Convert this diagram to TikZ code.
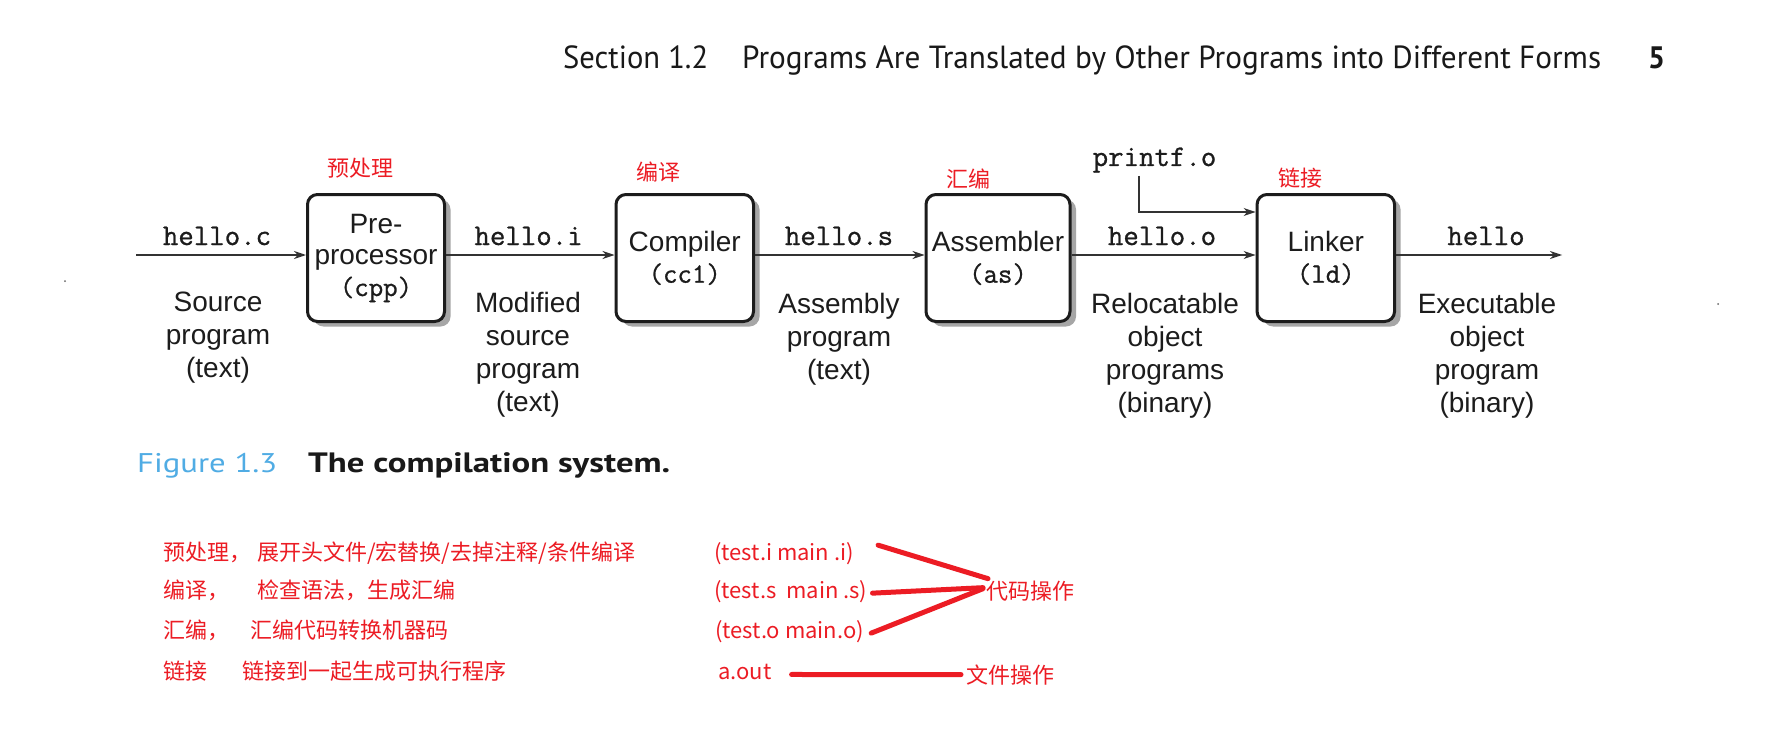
\documentclass[tikz,border=0pt]{standalone}
\usepackage{graphicx}
\usepackage{fontspec}
\setmainfont{Liberation Sans}
\setmonofont{Latin Modern Mono}[FakeBold=0.9]
\newfontfamily\cjk{Noto Sans CJK SC}
\newfontfamily\hdr{PT Sans}
\usetikzlibrary{arrows.meta,shadows}
\definecolor{redc}{RGB}{236,28,36}
\definecolor{bluec}{RGB}{80,172,228}
\definecolor{ink}{RGB}{28,28,28}
\begin{document}
\begin{tikzpicture}[x=1pt,y=-1pt,
  box/.style={draw=ink, line width=3pt, rounded corners=10pt, fill=white, align=center,
    inner sep=0pt, text=ink, font=\fontsize{28}{31.5}\selectfont, minimum height=127pt,
    drop shadow={shadow xshift=6pt, shadow yshift=-5pt, fill=black!35, opacity=1}},
  lab/.style={font=\fontsize{30}{30}\ttfamily, text=ink, inner sep=0pt, anchor=base},
  desc/.style={font=\fontsize{28}{33}\selectfont, align=center, anchor=north, inner sep=0pt, text=ink},
  arr/.style={draw=black!80, line width=1.4pt, -{Stealth[length=12pt,width=8pt]}},
  rlab/.style={font=\cjk\fontsize{22}{22}\selectfont, text=redc, anchor=base, inner sep=0pt},
  rt/.style={font=\cjk\fontsize{22}{22}\selectfont, text=redc, anchor=base west, inner sep=0pt},
  redline/.style={draw=redc, line width=5pt, line cap=round},
  hd/.style={anchor=base west, inner sep=0pt, text=black!90}]
\fill[white] (0,0) rectangle (1768,738);
\useasboundingbox (0,0) rectangle (1768,738);

% header
\node[hd, font=\hdr\fontsize{32}{32}\selectfont] (sec) at (563,69) {\resizebox{145pt}{\height}{Section 1.2}};
\node[hd, font=\hdr\fontsize{32}{32}\selectfont] (ttl) at (742,69) {\resizebox{859pt}{\height}{Programs Are Translated by Other Programs into Different Forms}};
\node[hd, font=\hdr\bfseries\fontsize{31}{31}\selectfont] (pg) at (1648,69) {\resizebox{17pt}{\height}{5}};

% boxes
\node[box, minimum width=137pt] (pre) at (376,258) {Pre-\\processor\\{\ttfamily (cpp)}};
\node[box, minimum width=137.5pt] (cc) at (684.75,258) {Compiler\\{\ttfamily (cc1)}};
\node[box, minimum width=144pt] (as) at (998,258) {Assembler\\{\ttfamily (as)}};
\node[box, minimum width=137.5pt] (ld) at (1325.8,258) {Linker\\{\ttfamily (ld)}};

% red labels above boxes
\node[rlab] (rpre) at (360,176) {预处理};
\node[rlab] (rcc) at (658,181) {编译};
\node[rlab] (ras) at (968,187) {汇编};
\node[rlab] (rld) at (1300,186) {链接};

% connectors
\coordinate (src) at (136,255);
\coordinate (dst) at (1562,255);
\coordinate (pfy) at (0,212);
\draw[arr] (src) -- (src -| pre.west);
\draw[arr] (pre.east |- src) -- (cc.west |- src);
\draw[arr] (cc.east |- src) -- (as.west |- src);
\draw[arr] (as.east |- src) -- (ld.west |- src);
\draw[arr] (ld.east |- src) -- (dst);

% file labels
\node[lab] (lc) at (217,245) {hello.c};
\node[lab] (li) at (528.6,245) {hello.i};
\node[lab] (ls) at (839,245) {hello.s};
\node[lab] (lo) at (1162,245) {hello.o};
\node[lab] (lh) at (1486,245) {hello};
\node[lab] (pf) at (1154.5,166) {printf.o};
\draw[arr] ([xshift=-15.5pt,yshift=-3pt]pf.south) |- (ld.west |- pfy);

% descriptions
\node[desc] (d1) at (218,292) {Source\\program\\(text)};
\node[desc] (d2) at (528,292) {Modified\\source\\program\\(text)};
\node[desc] (d3) at (839,293) {Assembly\\program\\(text)};
\node[desc] (d4) at (1165,293) {Relocatable\\object\\programs\\(binary)};
\node[desc] (d5) at (1487,293) {Executable\\object\\program\\(binary)};

% caption
\node[hd, text=bluec, font=\hdr\fontsize{27}{27}\selectfont] (fig) at (137,472) {\resizebox{140pt}{\height}{Figure 1.3}};
\node[hd, font=\hdr\bfseries\fontsize{28}{28}\selectfont] (cap) at (308,472) {\resizebox{362pt}{\height}{The compilation system.}};

% annotations
\node[rt] (a1) at (163,560) {预处理，};
\node[rt] (b1) at (257,560) {展开头文件/宏替换/去掉注释/条件编译};
\node[rt] (c1) at (714,560) {(test.i main .i)};
\node[rt] (a2) at (163,598) {编译，};
\node[rt] (b2) at (257,598) {检查语法，生成汇编};
\node[rt] (c2) at (714,598) {(test.s\ \ main .s)};
\node[rt] (a3) at (163,638) {汇编，};
\node[rt] (b3) at (250,638) {汇编代码转换机器码};
\node[rt] (c3) at (715,638) {(test.o main.o)};
\node[rt] (a4) at (163,679) {链接};
\node[rt] (b4) at (242,679) {链接到一起生成可执行程序};
\node[rt] (c4) at (718,679) {a.out};
\node[rt] (op1) at (986,599) {代码操作};
\node[rt] (op2) at (966,683) {文件操作};

\draw[redline] ([shift={(24,-8)}]c1.east) -- ([shift={(2,-12)}]op1.west);
\draw[redline] ([shift={(5,2)}]c2.east) -- ([shift={(-3,-3)}]op1.west);
\draw[redline] ([shift={(7,2)}]c3.east) -- ([shift={(-3,-2)}]op1.west);
\draw[redline] ([shift={(20,3)}]c4.east) -- ([shift={(-5,0)}]op2.west);

% specks
\fill[black!60] (65,281) circle (1pt);
\fill[black!60] (1718,304) circle (1pt);
\end{tikzpicture}
\end{document}
